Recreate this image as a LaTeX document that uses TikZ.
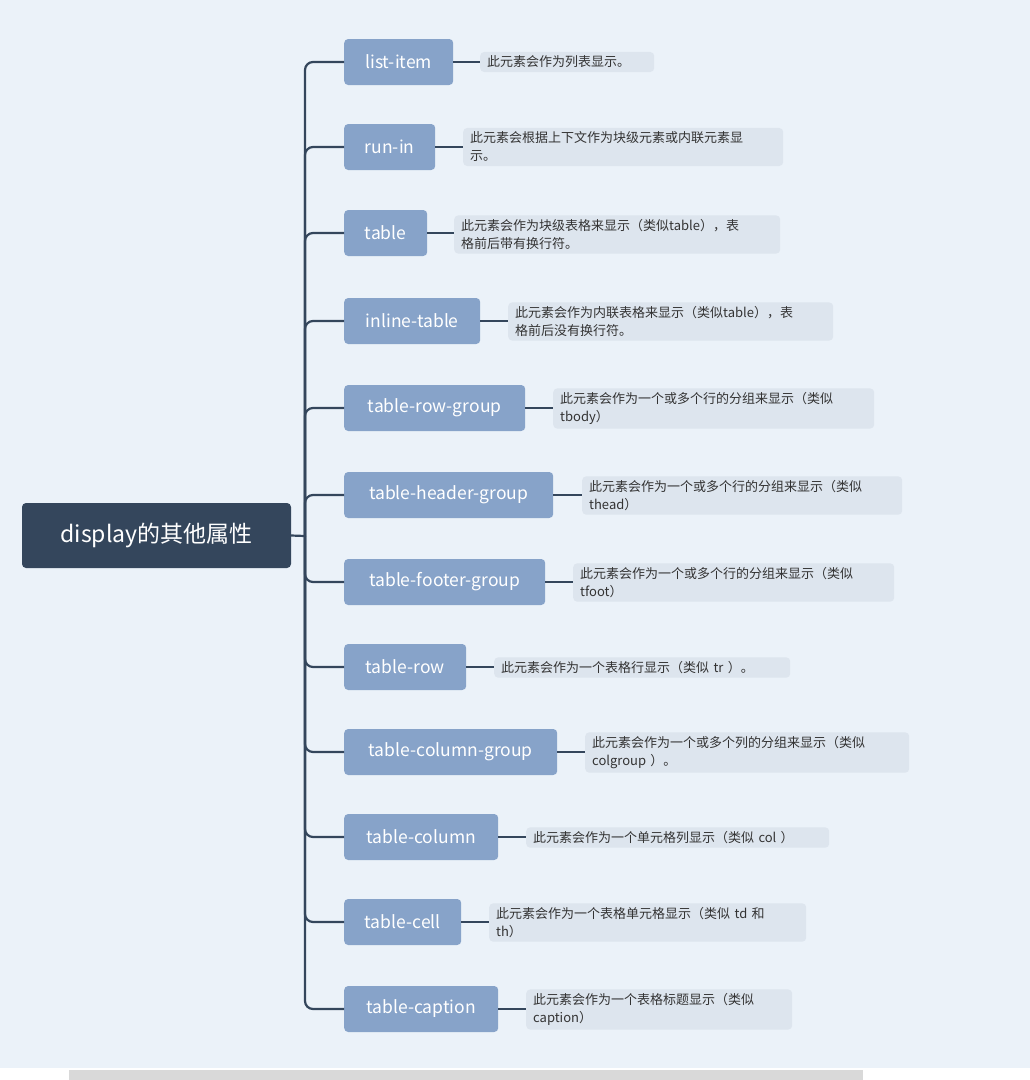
\documentclass[tikz,border=0pt]{standalone}
\usepackage{fontspec}
\setmainfont{Noto Sans CJK SC}
\definecolor{bg}{HTML}{EBF2F9}
\definecolor{rootc}{HTML}{34465C}
\definecolor{childc}{HTML}{87A3C9}
\definecolor{notec}{HTML}{DDE5EE}
\definecolor{linec}{HTML}{34465C}
\definecolor{notet}{HTML}{333333}
\begin{document}
\begin{tikzpicture}[x=1pt,y=-1pt,
 rootbox/.style={fill=rootc,rounded corners=4pt,text=white,font=\fontsize{23}{28}\selectfont,inner sep=0},
 childbox/.style={fill=childc,rounded corners=4pt,text=white,font=\fontsize{17.5}{21}\selectfont,inner sep=0,anchor=west,minimum height=46pt},
 notebox/.style={fill=notec,rounded corners=4pt,text=notet,font=\fontsize{13}{18}\selectfont,inner xsep=7pt,inner ysep=4pt,anchor=west,align=left},
 conn/.style={draw=linec,line width=2.2pt,rounded corners=8pt},
 link/.style={draw=linec,line width=1.8pt}]
\fill[white] (0,0) rectangle (1030,1080);
\fill[bg] (0,0) rectangle (1030,1068);
\fill[black!15] (69,1070) rectangle (863,1080);
\node[rootbox,minimum width=269pt,minimum height=65pt] (root) at (156.5,535.5) {display的其他属性};
\coordinate (hub) at (305,536);
\draw[conn] (root.east) -- (hub);
\foreach \n/\w/\y/\t/\nw/\nt in {
 a/109/62/list-item/174/此元素会作为列表显示。,
 b/91/147/run-in/320/此元素会根据上下文作为块级元素或内联元素显\\示。,
 c/83/233/table/326/此元素会作为块级表格来显示（类似table），表\\格前后带有换行符。,
 d/136/321/inline-table/325/此元素会作为内联表格来显示（类似table），表\\格前后没有换行符。,
 e/181/408/table-row-group/321/此元素会作为一个或多个行的分组来显示（类似\\tbody）,
 f/209/495/table-header-group/320/此元素会作为一个或多个行的分组来显示（类似\\thead）,
 g/201/582/table-footer-group/321/此元素会作为一个或多个行的分组来显示（类似\\tfoot）,
 h/122/667/table-row/296/此元素会作为一个表格行显示（类似 tr ）。,
 i/213/752/table-column-group/324/此元素会作为一个或多个列的分组来显示（类似\\colgroup ）。,
 j/154/837/table-column/303/此元素会作为一个单元格列显示（类似 col ）,
 k/117/922/table-cell/317/此元素会作为一个表格单元格显示（类似 td 和\\th）,
 l/154/1009/table-caption/266/此元素会作为一个表格标题显示（类似\\caption）}
{
 \node[childbox,minimum width=\w pt] (c\n) at (344,\y) {\t};
 \draw[conn] (hub) |- (c\n.west);
}
\node[notebox,text width=160pt] (na) at (480,62) {此元素会作为列表显示。};
\node[notebox,text width=306pt] (nb) at (463,147) {此元素会根据上下文作为块级元素或内联元素显\\示。};
\node[notebox,text width=312pt] (nc) at (454,234.5) {此元素会作为块级表格来显示（类似table），表\\格前后带有换行符。};
\node[notebox,text width=311pt] (nd) at (508,321.5) {此元素会作为内联表格来显示（类似table），表\\格前后没有换行符。};
\node[notebox,text width=307pt] (ne) at (553,408.5) {此元素会作为一个或多个行的分组来显示（类似\\tbody）};
\node[notebox,text width=306pt] (nf) at (582,495.5) {此元素会作为一个或多个行的分组来显示（类似\\thead）};
\node[notebox,text width=307pt] (ng) at (573,582.5) {此元素会作为一个或多个行的分组来显示（类似\\tfoot）};
\node[notebox,text width=282pt] (nh) at (494,667.5) {此元素会作为一个表格行显示（类似 tr ）。};
\node[notebox,text width=310pt] (ni) at (585,752.5) {此元素会作为一个或多个列的分组来显示（类似\\colgroup ）。};
\node[notebox,text width=289pt] (nj) at (526,837.5) {此元素会作为一个单元格列显示（类似 col ）};
\node[notebox,text width=303pt] (nk) at (489,922.5) {此元素会作为一个表格单元格显示（类似 td 和\\th）};
\node[notebox,text width=252pt] (nl) at (526,1009.5) {此元素会作为一个表格标题显示（类似\\caption）};
\foreach \n in {a,b,c,d,e,f,g,h,i,j,k,l}{
 \draw[link] (c\n.east) -- (c\n.east -| n\n.west);
}
\end{tikzpicture}
\end{document}
